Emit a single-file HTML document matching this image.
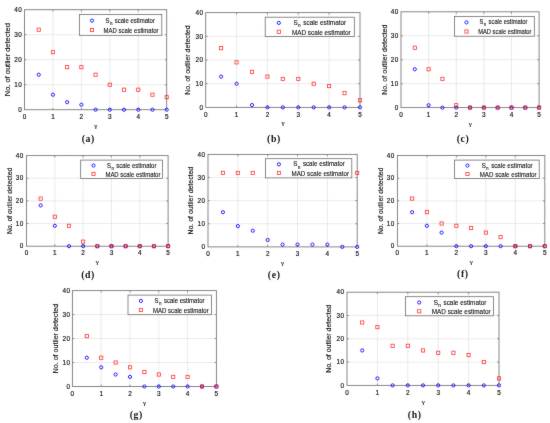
<!DOCTYPE html>
<html><head><meta charset="utf-8"><style>
html,body{margin:0;padding:0;background:#fff;}
svg{display:block;}
text{font-family:"Liberation Sans",Arial,sans-serif;}
.tk{font-size:6.4px;letter-spacing:0.45px;fill:#111;stroke:#111;stroke-width:0.16px;}
.yl{fill:#111;stroke:#111;stroke-width:0.14px;}
.lg{fill:#111;stroke:#111;stroke-width:0.1px;}
.gm{font-family:"Liberation Serif","Times New Roman",serif;font-size:7.0px;fill:#111;stroke:#111;stroke-width:0.15px;}
.pl{font-family:"Liberation Serif","Times New Roman",serif;font-size:9.8px;font-weight:bold;fill:#111;letter-spacing:0.6px;}
.gr{stroke:#dcdcdc;stroke-width:0.6;fill:none;}
.tkm{stroke:#555;stroke-width:0.65;fill:none;}
.bx{stroke:#7a7a7a;stroke-width:0.9;fill:none;}
.lb{stroke:#666;stroke-width:0.75;fill:#fff;}
.sq{stroke:#ff0000;stroke-width:0.8;fill:none;opacity:0.8;}
.ci{stroke:#0000ff;stroke-width:0.95;fill:none;opacity:0.9;}
</style></head><body>
<svg width="550" height="423" viewBox="0 0 550 423">
<defs><filter id="bl" x="0" y="0" width="550" height="423" filterUnits="userSpaceOnUse" color-interpolation-filters="sRGB"><feConvolveMatrix order="3" kernelMatrix="1 2 1 2 36 2 1 2 1" edgeMode="duplicate"/></filter></defs>
<g filter="url(#bl)">
<rect width="550" height="423" fill="#fff"/>
<g>
<path d="M52.94 9.7V109.7M81.38 9.7V109.7M109.82 9.7V109.7M138.26 9.7V109.7M24.5 84.7H166.7M24.5 59.7H166.7M24.5 34.7H166.7" class="gr"/>
<path d="M52.94 109.7v-1.8M52.94 9.7v1.8M81.38 109.7v-1.8M81.38 9.7v1.8M109.82 109.7v-1.8M109.82 9.7v1.8M138.26 109.7v-1.8M138.26 9.7v1.8M24.5 84.7h1.8M166.7 84.7h-1.8M24.5 59.7h1.8M166.7 59.7h-1.8M24.5 34.7h1.8M166.7 34.7h-1.8" class="tkm"/>
<rect x="24.5" y="9.7" width="142.2" height="100" class="bx"/>
<circle cx="38.72" cy="74.7" r="1.6" class="ci"/>
<circle cx="52.94" cy="94.7" r="1.6" class="ci"/>
<circle cx="67.16" cy="102.2" r="1.6" class="ci"/>
<circle cx="81.38" cy="104.7" r="1.6" class="ci"/>
<circle cx="95.6" cy="109.7" r="1.6" class="ci"/>
<circle cx="109.82" cy="109.7" r="1.6" class="ci"/>
<circle cx="124.04" cy="109.7" r="1.6" class="ci"/>
<circle cx="138.26" cy="109.7" r="1.6" class="ci"/>
<circle cx="152.48" cy="109.7" r="1.6" class="ci"/>
<circle cx="166.7" cy="109.7" r="1.6" class="ci"/>
<rect x="37.12" y="28.1" width="3.2" height="3.2" class="sq"/>
<rect x="51.34" y="50.6" width="3.2" height="3.2" class="sq"/>
<rect x="65.56" y="65.6" width="3.2" height="3.2" class="sq"/>
<rect x="79.78" y="65.6" width="3.2" height="3.2" class="sq"/>
<rect x="94" y="73.1" width="3.2" height="3.2" class="sq"/>
<rect x="108.22" y="83.1" width="3.2" height="3.2" class="sq"/>
<rect x="122.44" y="88.1" width="3.2" height="3.2" class="sq"/>
<rect x="136.66" y="88.1" width="3.2" height="3.2" class="sq"/>
<rect x="150.88" y="93.1" width="3.2" height="3.2" class="sq"/>
<rect x="165.1" y="95.6" width="3.2" height="3.2" class="sq"/>
<rect x="79.5" y="14.6" width="82.3" height="20.7" class="lb"/>
<circle cx="92" cy="20.6" r="1.6" class="ci"/>
<rect x="90.4" y="28.4" width="3.2" height="3.2" class="sq"/>
<g transform="translate(105.6,22.61) scale(1,1.12)"><text class="lg" font-size="5.97">S<tspan dx="0.3" dy="1.91" font-size="4.48">n</tspan><tspan dx="0.8" dy="-1.91"> scale estimator</tspan></text></g>
<g transform="translate(103.62,32.96) scale(1,1.12)"><text class="lg" font-size="5.97">MAD scale estimator</text></g>
<text x="22.15" y="111.94" class="tk" text-anchor="end">0</text>
<text x="22.15" y="86.94" class="tk" text-anchor="end">10</text>
<text x="22.15" y="61.94" class="tk" text-anchor="end">20</text>
<text x="22.15" y="36.94" class="tk" text-anchor="end">30</text>
<text x="22.15" y="11.94" class="tk" text-anchor="end">40</text>
<text x="24.73" y="119.2" class="tk" text-anchor="middle">0</text>
<text x="53.16" y="119.2" class="tk" text-anchor="middle">1</text>
<text x="81.6" y="119.2" class="tk" text-anchor="middle">2</text>
<text x="110.04" y="119.2" class="tk" text-anchor="middle">3</text>
<text x="138.48" y="119.2" class="tk" text-anchor="middle">4</text>
<text x="166.92" y="119.2" class="tk" text-anchor="middle">5</text>
<text transform="translate(9.85,59.7) rotate(-90)" class="yl" font-size="7.48" text-anchor="middle">No. of outlier detected</text>
<text x="95.7" y="128.37" class="gm" text-anchor="middle">γ</text>
<text x="81.76" y="141.71" class="pl">(a)</text>
</g>
<g>
<path d="M236.56 12.6V107.4M267.42 12.6V107.4M298.28 12.6V107.4M329.14 12.6V107.4M205.7 83.7H360M205.7 60H360M205.7 36.3H360" class="gr"/>
<path d="M236.56 107.4v-1.8M236.56 12.6v1.8M267.42 107.4v-1.8M267.42 12.6v1.8M298.28 107.4v-1.8M298.28 12.6v1.8M329.14 107.4v-1.8M329.14 12.6v1.8M205.7 83.7h1.8M360 83.7h-1.8M205.7 60h1.8M360 60h-1.8M205.7 36.3h1.8M360 36.3h-1.8" class="tkm"/>
<rect x="205.7" y="12.6" width="154.3" height="94.8" class="bx"/>
<circle cx="221.13" cy="76.59" r="1.6" class="ci"/>
<circle cx="236.56" cy="83.7" r="1.6" class="ci"/>
<circle cx="251.99" cy="105.03" r="1.6" class="ci"/>
<circle cx="267.42" cy="107.4" r="1.6" class="ci"/>
<circle cx="282.85" cy="107.4" r="1.6" class="ci"/>
<circle cx="298.28" cy="107.4" r="1.6" class="ci"/>
<circle cx="313.71" cy="107.4" r="1.6" class="ci"/>
<circle cx="329.14" cy="107.4" r="1.6" class="ci"/>
<circle cx="344.57" cy="107.4" r="1.6" class="ci"/>
<circle cx="360" cy="107.4" r="1.6" class="ci"/>
<rect x="219.53" y="46.55" width="3.2" height="3.2" class="sq"/>
<rect x="234.96" y="60.77" width="3.2" height="3.2" class="sq"/>
<rect x="250.39" y="70.25" width="3.2" height="3.2" class="sq"/>
<rect x="265.82" y="74.99" width="3.2" height="3.2" class="sq"/>
<rect x="281.25" y="77.36" width="3.2" height="3.2" class="sq"/>
<rect x="296.68" y="77.36" width="3.2" height="3.2" class="sq"/>
<rect x="312.11" y="82.1" width="3.2" height="3.2" class="sq"/>
<rect x="327.54" y="84.47" width="3.2" height="3.2" class="sq"/>
<rect x="342.97" y="91.58" width="3.2" height="3.2" class="sq"/>
<rect x="358.4" y="98.69" width="3.2" height="3.2" class="sq"/>
<rect x="265.2" y="17.2" width="89.1" height="19.3" class="lb"/>
<circle cx="278.8" cy="22.9" r="1.6" class="ci"/>
<rect x="277.2" y="30.2" width="3.2" height="3.2" class="sq"/>
<g transform="translate(293.48,25.08) scale(1,1.12)"><text class="lg" font-size="6.39">S<tspan dx="0.3" dy="2.04" font-size="4.79">n</tspan><tspan dx="0.8" dy="-2.04"> scale estimator</tspan></text></g>
<g transform="translate(291.89,34.93) scale(1,1.12)"><text class="lg" font-size="6.39">MAD scale estimator</text></g>
<text x="203.45" y="109.64" class="tk" text-anchor="end">0</text>
<text x="203.45" y="85.94" class="tk" text-anchor="end">10</text>
<text x="203.45" y="62.24" class="tk" text-anchor="end">20</text>
<text x="203.45" y="38.54" class="tk" text-anchor="end">30</text>
<text x="203.45" y="14.84" class="tk" text-anchor="end">40</text>
<text x="205.92" y="116.9" class="tk" text-anchor="middle">0</text>
<text x="236.78" y="116.9" class="tk" text-anchor="middle">1</text>
<text x="267.65" y="116.9" class="tk" text-anchor="middle">2</text>
<text x="298.5" y="116.9" class="tk" text-anchor="middle">3</text>
<text x="329.37" y="116.9" class="tk" text-anchor="middle">4</text>
<text x="360.23" y="116.9" class="tk" text-anchor="middle">5</text>
<text transform="translate(189.55,60) rotate(-90)" class="yl" font-size="7.12" text-anchor="middle">No. of outlier detected</text>
<text x="283" y="125.37" class="gm" text-anchor="middle">γ</text>
<text x="267.06" y="141.51" class="pl">(b)</text>
</g>
<g>
<path d="M428.62 11.8V107.6M456.24 11.8V107.6M483.86 11.8V107.6M511.48 11.8V107.6M401 83.65H539.1M401 59.7H539.1M401 35.75H539.1" class="gr"/>
<path d="M428.62 107.6v-1.8M428.62 11.8v1.8M456.24 107.6v-1.8M456.24 11.8v1.8M483.86 107.6v-1.8M483.86 11.8v1.8M511.48 107.6v-1.8M511.48 11.8v1.8M401 83.65h1.8M539.1 83.65h-1.8M401 59.7h1.8M539.1 59.7h-1.8M401 35.75h1.8M539.1 35.75h-1.8" class="tkm"/>
<rect x="401" y="11.8" width="138.1" height="95.8" class="bx"/>
<circle cx="414.81" cy="69.28" r="1.6" class="ci"/>
<circle cx="428.62" cy="105.2" r="1.6" class="ci"/>
<circle cx="442.43" cy="107.6" r="1.6" class="ci"/>
<circle cx="456.24" cy="107.6" r="1.6" class="ci"/>
<circle cx="470.05" cy="107.6" r="1.6" class="ci"/>
<circle cx="483.86" cy="107.6" r="1.6" class="ci"/>
<circle cx="497.67" cy="107.6" r="1.6" class="ci"/>
<circle cx="511.48" cy="107.6" r="1.6" class="ci"/>
<circle cx="525.29" cy="107.6" r="1.6" class="ci"/>
<circle cx="539.1" cy="107.6" r="1.6" class="ci"/>
<rect x="413.21" y="46.12" width="3.2" height="3.2" class="sq"/>
<rect x="427.02" y="67.68" width="3.2" height="3.2" class="sq"/>
<rect x="440.83" y="77.26" width="3.2" height="3.2" class="sq"/>
<rect x="454.64" y="103.61" width="3.2" height="3.2" class="sq"/>
<rect x="468.45" y="106" width="3.2" height="3.2" class="sq"/>
<rect x="482.26" y="106" width="3.2" height="3.2" class="sq"/>
<rect x="496.07" y="106" width="3.2" height="3.2" class="sq"/>
<rect x="509.88" y="106" width="3.2" height="3.2" class="sq"/>
<rect x="523.69" y="106" width="3.2" height="3.2" class="sq"/>
<rect x="537.5" y="106" width="3.2" height="3.2" class="sq"/>
<rect x="454.5" y="16.4" width="79.8" height="19.8" class="lb"/>
<circle cx="466.5" cy="22.4" r="1.6" class="ci"/>
<rect x="464.9" y="29.9" width="3.2" height="3.2" class="sq"/>
<g transform="translate(479.61,24.34) scale(1,1.12)"><text class="lg" font-size="5.8">S<tspan dx="0.3" dy="1.86" font-size="4.35">n</tspan><tspan dx="0.8" dy="-1.86"> scale estimator</tspan></text></g>
<g transform="translate(478.14,34.39) scale(1,1.12)"><text class="lg" font-size="5.8">MAD scale estimator</text></g>
<text x="398.75" y="109.84" class="tk" text-anchor="end">0</text>
<text x="398.75" y="85.89" class="tk" text-anchor="end">10</text>
<text x="398.75" y="61.94" class="tk" text-anchor="end">20</text>
<text x="398.75" y="37.99" class="tk" text-anchor="end">30</text>
<text x="398.75" y="14.04" class="tk" text-anchor="end">40</text>
<text x="401.23" y="116.9" class="tk" text-anchor="middle">0</text>
<text x="428.85" y="116.9" class="tk" text-anchor="middle">1</text>
<text x="456.47" y="116.9" class="tk" text-anchor="middle">2</text>
<text x="484.09" y="116.9" class="tk" text-anchor="middle">3</text>
<text x="511.71" y="116.9" class="tk" text-anchor="middle">4</text>
<text x="539.33" y="116.9" class="tk" text-anchor="middle">5</text>
<text transform="translate(387.05,59.7) rotate(-90)" class="yl" font-size="7.2" text-anchor="middle">No. of outlier detected</text>
<text x="470.2" y="125.57" class="gm" text-anchor="middle">γ</text>
<text x="456.76" y="142.01" class="pl">(c)</text>
</g>
<g>
<path d="M54.82 155.6V246.2M83.14 155.6V246.2M111.46 155.6V246.2M139.78 155.6V246.2M26.5 223.55H168.1M26.5 200.9H168.1M26.5 178.25H168.1" class="gr"/>
<path d="M54.82 246.2v-1.8M54.82 155.6v1.8M83.14 246.2v-1.8M83.14 155.6v1.8M111.46 246.2v-1.8M111.46 155.6v1.8M139.78 246.2v-1.8M139.78 155.6v1.8M26.5 223.55h1.8M168.1 223.55h-1.8M26.5 200.9h1.8M168.1 200.9h-1.8M26.5 178.25h1.8M168.1 178.25h-1.8" class="tkm"/>
<rect x="26.5" y="155.6" width="141.6" height="90.6" class="bx"/>
<circle cx="40.66" cy="205.43" r="1.6" class="ci"/>
<circle cx="54.82" cy="225.81" r="1.6" class="ci"/>
<circle cx="68.98" cy="246.2" r="1.6" class="ci"/>
<circle cx="83.14" cy="246.2" r="1.6" class="ci"/>
<circle cx="97.3" cy="246.2" r="1.6" class="ci"/>
<circle cx="111.46" cy="246.2" r="1.6" class="ci"/>
<circle cx="125.62" cy="246.2" r="1.6" class="ci"/>
<circle cx="139.78" cy="246.2" r="1.6" class="ci"/>
<circle cx="153.94" cy="246.2" r="1.6" class="ci"/>
<circle cx="168.1" cy="246.2" r="1.6" class="ci"/>
<rect x="39.06" y="197.03" width="3.2" height="3.2" class="sq"/>
<rect x="53.22" y="215.16" width="3.2" height="3.2" class="sq"/>
<rect x="67.38" y="224.22" width="3.2" height="3.2" class="sq"/>
<rect x="81.54" y="240.07" width="3.2" height="3.2" class="sq"/>
<rect x="95.7" y="244.6" width="3.2" height="3.2" class="sq"/>
<rect x="109.86" y="244.6" width="3.2" height="3.2" class="sq"/>
<rect x="124.02" y="244.6" width="3.2" height="3.2" class="sq"/>
<rect x="138.18" y="244.6" width="3.2" height="3.2" class="sq"/>
<rect x="152.34" y="244.6" width="3.2" height="3.2" class="sq"/>
<rect x="166.5" y="244.6" width="3.2" height="3.2" class="sq"/>
<rect x="80.7" y="160.1" width="81.9" height="18.3" class="lb"/>
<circle cx="93.5" cy="165.5" r="1.6" class="ci"/>
<rect x="91.9" y="172.3" width="3.2" height="3.2" class="sq"/>
<g transform="translate(107.1,167.51) scale(1,1.12)"><text class="lg" font-size="5.97">S<tspan dx="0.3" dy="1.91" font-size="4.48">n</tspan><tspan dx="0.8" dy="-1.91"> scale estimator</tspan></text></g>
<g transform="translate(105.42,176.86) scale(1,1.12)"><text class="lg" font-size="5.97">MAD scale estimator</text></g>
<text x="23.75" y="248.44" class="tk" text-anchor="end">0</text>
<text x="23.75" y="225.79" class="tk" text-anchor="end">10</text>
<text x="23.75" y="203.14" class="tk" text-anchor="end">20</text>
<text x="23.75" y="180.49" class="tk" text-anchor="end">30</text>
<text x="23.75" y="157.84" class="tk" text-anchor="end">40</text>
<text x="26.73" y="254.7" class="tk" text-anchor="middle">0</text>
<text x="55.05" y="254.7" class="tk" text-anchor="middle">1</text>
<text x="83.36" y="254.7" class="tk" text-anchor="middle">2</text>
<text x="111.69" y="254.7" class="tk" text-anchor="middle">3</text>
<text x="140" y="254.7" class="tk" text-anchor="middle">4</text>
<text x="168.32" y="254.7" class="tk" text-anchor="middle">5</text>
<text transform="translate(11.85,200.9) rotate(-90)" class="yl" font-size="6.77" text-anchor="middle">No. of outlier detected</text>
<text x="97.3" y="263.67" class="gm" text-anchor="middle">γ</text>
<text x="81.16" y="278.21" class="pl">(d)</text>
</g>
<g>
<path d="M237.84 154.4V246.9M267.68 154.4V246.9M297.52 154.4V246.9M327.36 154.4V246.9M208 223.78H357.2M208 200.65H357.2M208 177.53H357.2" class="gr"/>
<path d="M237.84 246.9v-1.8M237.84 154.4v1.8M267.68 246.9v-1.8M267.68 154.4v1.8M297.52 246.9v-1.8M297.52 154.4v1.8M327.36 246.9v-1.8M327.36 154.4v1.8M208 223.78h1.8M357.2 223.78h-1.8M208 200.65h1.8M357.2 200.65h-1.8M208 177.53h1.8M357.2 177.53h-1.8" class="tkm"/>
<rect x="208" y="154.4" width="149.2" height="92.5" class="bx"/>
<circle cx="222.92" cy="212.21" r="1.6" class="ci"/>
<circle cx="237.84" cy="226.09" r="1.6" class="ci"/>
<circle cx="252.76" cy="230.71" r="1.6" class="ci"/>
<circle cx="267.68" cy="239.96" r="1.6" class="ci"/>
<circle cx="282.6" cy="244.59" r="1.6" class="ci"/>
<circle cx="297.52" cy="244.59" r="1.6" class="ci"/>
<circle cx="312.44" cy="244.59" r="1.6" class="ci"/>
<circle cx="327.36" cy="244.59" r="1.6" class="ci"/>
<circle cx="342.28" cy="246.9" r="1.6" class="ci"/>
<circle cx="357.2" cy="246.9" r="1.6" class="ci"/>
<rect x="221.32" y="171.3" width="3.2" height="3.2" class="sq"/>
<rect x="236.24" y="171.3" width="3.2" height="3.2" class="sq"/>
<rect x="251.16" y="171.3" width="3.2" height="3.2" class="sq"/>
<rect x="266.08" y="171.3" width="3.2" height="3.2" class="sq"/>
<rect x="281" y="171.3" width="3.2" height="3.2" class="sq"/>
<rect x="295.92" y="171.3" width="3.2" height="3.2" class="sq"/>
<rect x="310.84" y="171.3" width="3.2" height="3.2" class="sq"/>
<rect x="325.76" y="171.3" width="3.2" height="3.2" class="sq"/>
<rect x="340.68" y="171.3" width="3.2" height="3.2" class="sq"/>
<rect x="355.6" y="171.3" width="3.2" height="3.2" class="sq"/>
<rect x="265.5" y="158.7" width="86.3" height="19.2" class="lb"/>
<circle cx="278.9" cy="164.3" r="1.6" class="ci"/>
<rect x="277.3" y="171.4" width="3.2" height="3.2" class="sq"/>
<g transform="translate(293.29,166.42) scale(1,1.12)"><text class="lg" font-size="6.26">S<tspan dx="0.3" dy="2" font-size="4.7">n</tspan><tspan dx="0.8" dy="-2"> scale estimator</tspan></text></g>
<g transform="translate(291.5,176.07) scale(1,1.12)"><text class="lg" font-size="6.26">MAD scale estimator</text></g>
<text x="205.55" y="249.14" class="tk" text-anchor="end">0</text>
<text x="205.55" y="226.02" class="tk" text-anchor="end">10</text>
<text x="205.55" y="202.89" class="tk" text-anchor="end">20</text>
<text x="205.55" y="179.77" class="tk" text-anchor="end">30</text>
<text x="205.55" y="156.64" class="tk" text-anchor="end">40</text>
<text x="208.22" y="255.9" class="tk" text-anchor="middle">0</text>
<text x="238.06" y="255.9" class="tk" text-anchor="middle">1</text>
<text x="267.91" y="255.9" class="tk" text-anchor="middle">2</text>
<text x="297.75" y="255.9" class="tk" text-anchor="middle">3</text>
<text x="327.59" y="255.9" class="tk" text-anchor="middle">4</text>
<text x="357.43" y="255.9" class="tk" text-anchor="middle">5</text>
<text transform="translate(192.75,200.65) rotate(-90)" class="yl" font-size="6.93" text-anchor="middle">No. of outlier detected</text>
<text x="282.6" y="264.67" class="gm" text-anchor="middle">γ</text>
<text x="267.86" y="278.21" class="pl">(e)</text>
</g>
<g>
<path d="M426.88 155.5V246.2M456.36 155.5V246.2M485.84 155.5V246.2M515.32 155.5V246.2M397.4 223.52H544.8M397.4 200.85H544.8M397.4 178.18H544.8" class="gr"/>
<path d="M426.88 246.2v-1.8M426.88 155.5v1.8M456.36 246.2v-1.8M456.36 155.5v1.8M485.84 246.2v-1.8M485.84 155.5v1.8M515.32 246.2v-1.8M515.32 155.5v1.8M397.4 223.52h1.8M544.8 223.52h-1.8M397.4 200.85h1.8M544.8 200.85h-1.8M397.4 178.18h1.8M544.8 178.18h-1.8" class="tkm"/>
<rect x="397.4" y="155.5" width="147.4" height="90.7" class="bx"/>
<circle cx="412.14" cy="212.19" r="1.6" class="ci"/>
<circle cx="426.88" cy="225.79" r="1.6" class="ci"/>
<circle cx="441.62" cy="232.59" r="1.6" class="ci"/>
<circle cx="456.36" cy="246.2" r="1.6" class="ci"/>
<circle cx="471.1" cy="246.2" r="1.6" class="ci"/>
<circle cx="485.84" cy="246.2" r="1.6" class="ci"/>
<circle cx="500.58" cy="246.2" r="1.6" class="ci"/>
<circle cx="515.32" cy="246.2" r="1.6" class="ci"/>
<circle cx="530.06" cy="246.2" r="1.6" class="ci"/>
<circle cx="544.8" cy="246.2" r="1.6" class="ci"/>
<rect x="410.54" y="196.98" width="3.2" height="3.2" class="sq"/>
<rect x="425.28" y="210.59" width="3.2" height="3.2" class="sq"/>
<rect x="440.02" y="221.92" width="3.2" height="3.2" class="sq"/>
<rect x="454.76" y="224.19" width="3.2" height="3.2" class="sq"/>
<rect x="469.5" y="226.46" width="3.2" height="3.2" class="sq"/>
<rect x="484.24" y="231" width="3.2" height="3.2" class="sq"/>
<rect x="498.98" y="235.53" width="3.2" height="3.2" class="sq"/>
<rect x="513.72" y="244.6" width="3.2" height="3.2" class="sq"/>
<rect x="528.46" y="244.6" width="3.2" height="3.2" class="sq"/>
<rect x="543.2" y="244.6" width="3.2" height="3.2" class="sq"/>
<rect x="454.5" y="160.1" width="84.7" height="18.3" class="lb"/>
<circle cx="467.5" cy="165.5" r="1.6" class="ci"/>
<rect x="465.9" y="172.4" width="3.2" height="3.2" class="sq"/>
<g transform="translate(481.69,167.59) scale(1,1.12)"><text class="lg" font-size="6.17">S<tspan dx="0.3" dy="1.97" font-size="4.63">n</tspan><tspan dx="0.8" dy="-1.97"> scale estimator</tspan></text></g>
<g transform="translate(479.71,177.04) scale(1,1.12)"><text class="lg" font-size="6.17">MAD scale estimator</text></g>
<text x="394.65" y="248.44" class="tk" text-anchor="end">0</text>
<text x="394.65" y="225.76" class="tk" text-anchor="end">10</text>
<text x="394.65" y="203.09" class="tk" text-anchor="end">20</text>
<text x="394.65" y="180.42" class="tk" text-anchor="end">30</text>
<text x="394.65" y="157.74" class="tk" text-anchor="end">40</text>
<text x="397.62" y="254.9" class="tk" text-anchor="middle">0</text>
<text x="427.11" y="254.9" class="tk" text-anchor="middle">1</text>
<text x="456.58" y="254.9" class="tk" text-anchor="middle">2</text>
<text x="486.06" y="254.9" class="tk" text-anchor="middle">3</text>
<text x="515.54" y="254.9" class="tk" text-anchor="middle">4</text>
<text x="545.02" y="254.9" class="tk" text-anchor="middle">5</text>
<text transform="translate(382.65,200.85) rotate(-90)" class="yl" font-size="6.8" text-anchor="middle">No. of outlier detected</text>
<text x="471.3" y="263.67" class="gm" text-anchor="middle">γ</text>
<text x="457.06" y="276.71" class="pl">(f)</text>
</g>
<g>
<path d="M101.2 290.6V386.5M130 290.6V386.5M158.8 290.6V386.5M187.6 290.6V386.5M72.4 362.52H216.4M72.4 338.55H216.4M72.4 314.58H216.4" class="gr"/>
<path d="M101.2 386.5v-1.8M101.2 290.6v1.8M130 386.5v-1.8M130 290.6v1.8M158.8 386.5v-1.8M158.8 290.6v1.8M187.6 386.5v-1.8M187.6 290.6v1.8M72.4 362.52h1.8M216.4 362.52h-1.8M72.4 338.55h1.8M216.4 338.55h-1.8M72.4 314.58h1.8M216.4 314.58h-1.8" class="tkm"/>
<rect x="72.4" y="290.6" width="144" height="95.9" class="bx"/>
<circle cx="86.8" cy="357.73" r="1.6" class="ci"/>
<circle cx="101.2" cy="367.32" r="1.6" class="ci"/>
<circle cx="115.6" cy="374.51" r="1.6" class="ci"/>
<circle cx="130" cy="376.91" r="1.6" class="ci"/>
<circle cx="144.4" cy="386.5" r="1.6" class="ci"/>
<circle cx="158.8" cy="386.5" r="1.6" class="ci"/>
<circle cx="173.2" cy="386.5" r="1.6" class="ci"/>
<circle cx="187.6" cy="386.5" r="1.6" class="ci"/>
<circle cx="202" cy="386.5" r="1.6" class="ci"/>
<circle cx="216.4" cy="386.5" r="1.6" class="ci"/>
<rect x="85.2" y="334.55" width="3.2" height="3.2" class="sq"/>
<rect x="99.6" y="356.13" width="3.2" height="3.2" class="sq"/>
<rect x="114" y="360.92" width="3.2" height="3.2" class="sq"/>
<rect x="128.4" y="365.72" width="3.2" height="3.2" class="sq"/>
<rect x="142.8" y="370.51" width="3.2" height="3.2" class="sq"/>
<rect x="157.2" y="372.91" width="3.2" height="3.2" class="sq"/>
<rect x="171.6" y="375.31" width="3.2" height="3.2" class="sq"/>
<rect x="186" y="375.31" width="3.2" height="3.2" class="sq"/>
<rect x="200.4" y="384.9" width="3.2" height="3.2" class="sq"/>
<rect x="214.8" y="384.9" width="3.2" height="3.2" class="sq"/>
<rect x="128" y="295.1" width="83.4" height="19.6" class="lb"/>
<circle cx="140.9" cy="300.9" r="1.6" class="ci"/>
<rect x="139.3" y="308.4" width="3.2" height="3.2" class="sq"/>
<g transform="translate(154.6,302.94) scale(1,1.12)"><text class="lg" font-size="6.04">S<tspan dx="0.3" dy="1.93" font-size="4.53">n</tspan><tspan dx="0.8" dy="-1.93"> scale estimator</tspan></text></g>
<g transform="translate(153.02,312.99) scale(1,1.12)"><text class="lg" font-size="6.04">MAD scale estimator</text></g>
<text x="70.55" y="388.74" class="tk" text-anchor="end">0</text>
<text x="70.55" y="364.76" class="tk" text-anchor="end">10</text>
<text x="70.55" y="340.79" class="tk" text-anchor="end">20</text>
<text x="70.55" y="316.82" class="tk" text-anchor="end">30</text>
<text x="70.55" y="292.84" class="tk" text-anchor="end">40</text>
<text x="72.62" y="395.5" class="tk" text-anchor="middle">0</text>
<text x="101.42" y="395.5" class="tk" text-anchor="middle">1</text>
<text x="130.22" y="395.5" class="tk" text-anchor="middle">2</text>
<text x="159.03" y="395.5" class="tk" text-anchor="middle">3</text>
<text x="187.83" y="395.5" class="tk" text-anchor="middle">4</text>
<text x="216.62" y="395.5" class="tk" text-anchor="middle">5</text>
<text transform="translate(57.75,338.55) rotate(-90)" class="yl" font-size="7.14" text-anchor="middle">No. of outlier detected</text>
<text x="144.5" y="404.57" class="gm" text-anchor="middle">γ</text>
<text x="129.76" y="417.61" class="pl">(g)</text>
</g>
<g>
<path d="M377.4 292.2V385.4M407.8 292.2V385.4M438.2 292.2V385.4M468.6 292.2V385.4M347 362.1H499M347 338.8H499M347 315.5H499" class="gr"/>
<path d="M377.4 385.4v-1.8M377.4 292.2v1.8M407.8 385.4v-1.8M407.8 292.2v1.8M438.2 385.4v-1.8M438.2 292.2v1.8M468.6 385.4v-1.8M468.6 292.2v1.8M347 362.1h1.8M499 362.1h-1.8M347 338.8h1.8M499 338.8h-1.8M347 315.5h1.8M499 315.5h-1.8" class="tkm"/>
<rect x="347" y="292.2" width="152" height="93.2" class="bx"/>
<circle cx="362.2" cy="350.45" r="1.6" class="ci"/>
<circle cx="377.4" cy="378.41" r="1.6" class="ci"/>
<circle cx="392.6" cy="385.4" r="1.6" class="ci"/>
<circle cx="407.8" cy="385.4" r="1.6" class="ci"/>
<circle cx="423" cy="385.4" r="1.6" class="ci"/>
<circle cx="438.2" cy="385.4" r="1.6" class="ci"/>
<circle cx="453.4" cy="385.4" r="1.6" class="ci"/>
<circle cx="468.6" cy="385.4" r="1.6" class="ci"/>
<circle cx="483.8" cy="385.4" r="1.6" class="ci"/>
<circle cx="499" cy="385.4" r="1.6" class="ci"/>
<rect x="360.6" y="320.89" width="3.2" height="3.2" class="sq"/>
<rect x="375.8" y="325.55" width="3.2" height="3.2" class="sq"/>
<rect x="391" y="344.19" width="3.2" height="3.2" class="sq"/>
<rect x="406.2" y="344.19" width="3.2" height="3.2" class="sq"/>
<rect x="421.4" y="348.85" width="3.2" height="3.2" class="sq"/>
<rect x="436.6" y="351.18" width="3.2" height="3.2" class="sq"/>
<rect x="451.8" y="351.18" width="3.2" height="3.2" class="sq"/>
<rect x="467" y="353.51" width="3.2" height="3.2" class="sq"/>
<rect x="482.2" y="360.5" width="3.2" height="3.2" class="sq"/>
<rect x="497.4" y="376.81" width="3.2" height="3.2" class="sq"/>
<rect x="405.5" y="296.7" width="88.1" height="19.1" class="lb"/>
<circle cx="419.2" cy="302.5" r="1.6" class="ci"/>
<rect x="417.6" y="309.7" width="3.2" height="3.2" class="sq"/>
<g transform="translate(433.68,304.68) scale(1,1.12)"><text class="lg" font-size="6.4">S<tspan dx="0.3" dy="2.05" font-size="4.8">n</tspan><tspan dx="0.8" dy="-2.05"> scale estimator</tspan></text></g>
<g transform="translate(431.69,314.43) scale(1,1.12)"><text class="lg" font-size="6.4">MAD scale estimator</text></g>
<text x="344.45" y="387.64" class="tk" text-anchor="end">0</text>
<text x="344.45" y="364.34" class="tk" text-anchor="end">10</text>
<text x="344.45" y="341.04" class="tk" text-anchor="end">20</text>
<text x="344.45" y="317.74" class="tk" text-anchor="end">30</text>
<text x="344.45" y="294.44" class="tk" text-anchor="end">40</text>
<text x="347.23" y="394.9" class="tk" text-anchor="middle">0</text>
<text x="377.62" y="394.9" class="tk" text-anchor="middle">1</text>
<text x="408.03" y="394.9" class="tk" text-anchor="middle">2</text>
<text x="438.43" y="394.9" class="tk" text-anchor="middle">3</text>
<text x="468.83" y="394.9" class="tk" text-anchor="middle">4</text>
<text x="499.23" y="394.9" class="tk" text-anchor="middle">5</text>
<text transform="translate(331.35,338.8) rotate(-90)" class="yl" font-size="6.96" text-anchor="middle">No. of outlier detected</text>
<text x="423.2" y="403.67" class="gm" text-anchor="middle">γ</text>
<text x="407.86" y="417.81" class="pl">(h)</text>
</g>
</g>
</svg>
</body></html>
